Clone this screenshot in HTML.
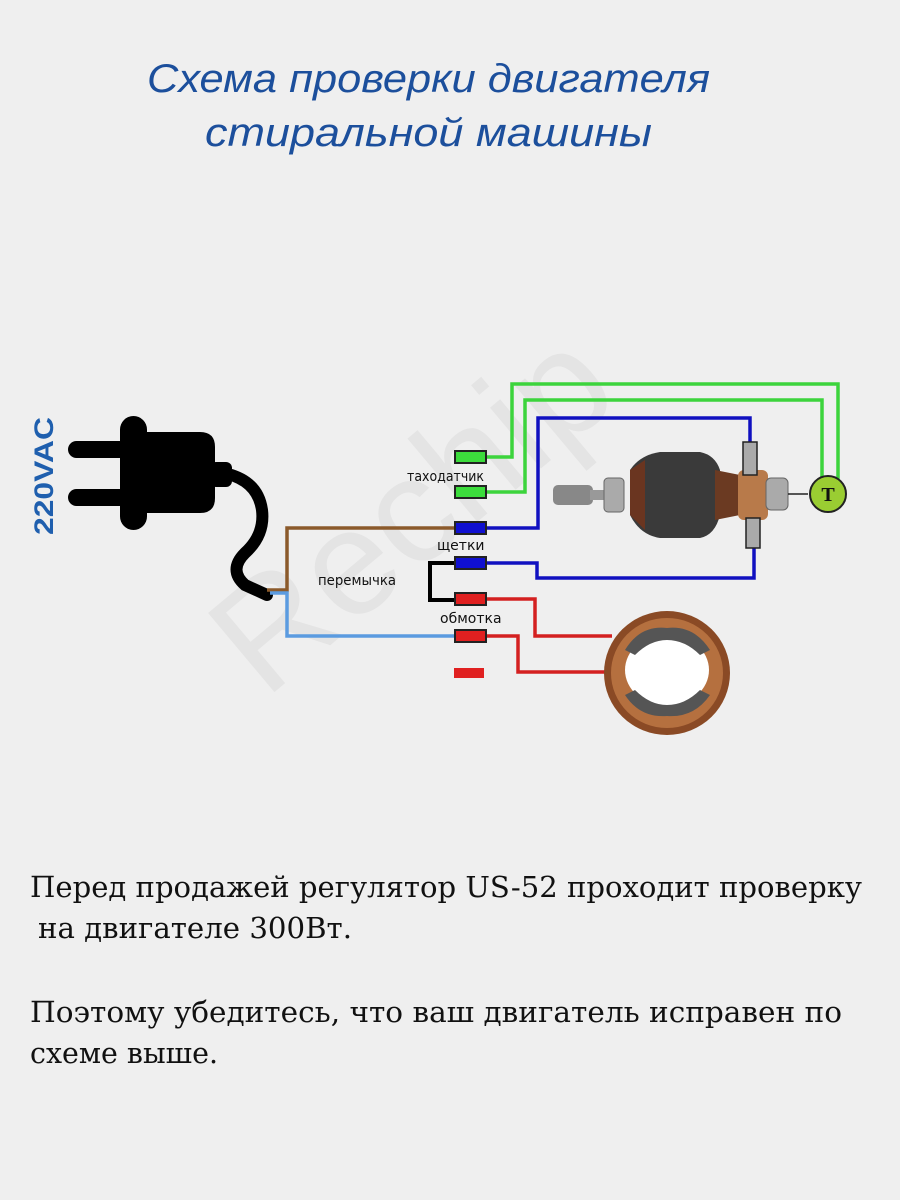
<!DOCTYPE html>
<html><head><meta charset="utf-8"><style>
html,body{margin:0;padding:0;background:#efefef;}
svg{display:block}
</style></head><body>
<svg width="900" height="1200" viewBox="0 0 900 1200" xmlns="http://www.w3.org/2000/svg">
<rect width="900" height="1200" fill="#efefef"/>
<g font-family="'Liberation Sans','DejaVu Sans',sans-serif" font-style="italic" fill="#1c4f9c" font-size="40">
<text x="147" y="92" textLength="563" lengthAdjust="spacingAndGlyphs">Схема проверки двигателя</text>
<text x="205" y="146" textLength="447" lengthAdjust="spacingAndGlyphs">стиральной машины</text>
</g>
<text x="0" y="0" transform="translate(265,700) rotate(-40)" font-family="'Liberation Sans',sans-serif" font-size="150" fill="#dcdcdc" opacity="0.55">Rechip</text>

<text transform="translate(53,535) rotate(-90)" font-family="'Liberation Sans',sans-serif" font-weight="bold" font-size="27" fill="#1f5fae" textLength="118" lengthAdjust="spacingAndGlyphs">220VAC</text>

<g fill="#000">
<rect x="68" y="441" width="60" height="17" rx="8.5"/>
<rect x="68" y="489" width="60" height="17" rx="8.5"/>
<rect x="120" y="416" width="27" height="114" rx="13.5"/>
<path d="M140 432 H200 Q215 432 215 447 V498 Q215 513 200 513 H140 Z"/>
<rect x="210" y="462" width="22" height="25" rx="6"/>
</g>
<path d="M228 474 Q258 482 262 510 Q265 535 245 553 Q228 570 245 585 L267 595" fill="none" stroke="#000" stroke-width="12" stroke-linecap="round"/>

<g fill="none" stroke-width="3.5">
<polyline points="267,590 287,590 287,528 456,528" stroke="#8b5a2b"/>
<polyline points="270,593 287,593 287,636 456,636" stroke="#5b9be0"/>
<polyline points="486,457 512,457 512,384 838,384 838,480" stroke="#3cd43c"/>
<polyline points="486,492 525,492 525,400 822,400 822,480" stroke="#3cd43c"/>
<polyline points="486,528 538,528 538,418 750,418 750,445" stroke="#1010c0"/>
<polyline points="486,563 537,563 537,578 754,578 754,546" stroke="#1010c0"/>
<polyline points="486,599 535,599 535,636 612,636" stroke="#d42020"/>
<polyline points="486,636 518,636 518,672 612,672" stroke="#d42020"/>
<polyline points="456,563 430,563 430,600 456,600" stroke="#000" stroke-width="4"/>
</g>
<g stroke="#222" stroke-width="2">
<rect x="455" y="451" width="31" height="12" fill="#3cdc3c"/>
<rect x="455" y="486" width="31" height="12" fill="#3cdc3c"/>
<rect x="455" y="522" width="31" height="12" fill="#1010d0"/>
<rect x="455" y="557" width="31" height="12" fill="#1010d0"/>
<rect x="455" y="593" width="31" height="12" fill="#e02020"/>
<rect x="455" y="630" width="31" height="12" fill="#e02020"/>
</g>
<rect x="454" y="668" width="30" height="10" fill="#e02020"/>
<g font-family="'DejaVu Sans','Liberation Sans',sans-serif" font-size="14" fill="#111">
<text x="407" y="481" textLength="77" lengthAdjust="spacingAndGlyphs">таходатчик</text>
<text x="437" y="550">щетки</text>
<text x="318" y="585" textLength="78" lengthAdjust="spacingAndGlyphs">перемычка</text>
<text x="440" y="623">обмотка</text>
</g>

<rect x="553" y="485" width="40" height="20" rx="5" fill="#888"/>
<rect x="590" y="490" width="25" height="10" fill="#999"/>
<rect x="604" y="478" width="20" height="34" rx="4" fill="#aaa" stroke="#666"/>
<path d="M630 470 Q640 455 660 452 L700 452 Q715 455 720 470 L720 515 Q715 535 700 538 L660 538 Q640 535 630 515 Z" fill="#3a3a3a"/>
<path d="M630 470 L645 460 L645 530 L630 515 Z" fill="#6a3520"/>
<path d="M715 470 L740 475 L740 515 L715 520 Z" fill="#6b3a22"/>
<rect x="738" y="470" width="30" height="50" rx="6" fill="#b87a4a"/>
<rect x="766" y="478" width="22" height="32" rx="5" fill="#aaa" stroke="#666"/>
<line x1="788" y1="494" x2="808" y2="494" stroke="#222" stroke-width="1.5"/>
<g stroke="#222" stroke-width="1.5" fill="#aaa">
<rect x="743" y="442" width="14" height="33"/>
<rect x="746" y="518" width="14" height="30"/>
</g>
<circle cx="828" cy="494" r="18" fill="#9acd32" stroke="#222" stroke-width="2"/>
<text x="828" y="501" text-anchor="middle" font-family="'Liberation Serif',serif" font-weight="bold" font-size="20" fill="#111">T</text>

<ellipse cx="667" cy="673" rx="63" ry="62" fill="#8a4a25"/>
<ellipse cx="667" cy="673" rx="56" ry="55" fill="#b5703f"/>
<ellipse cx="667" cy="670" rx="42" ry="36" fill="#fff"/>
<path d="M625 650 Q640 625 667 628 Q694 625 710 650 L700 655 Q685 640 667 640 Q650 640 635 655 Z" fill="#555"/>
<path d="M625 695 Q640 718 667 716 Q694 718 710 695 L700 690 Q685 705 667 705 Q650 705 635 690 Z" fill="#555"/>

<g font-family="'DejaVu Serif','Liberation Serif',serif" font-size="29" fill="#111">
<text x="30" y="897" textLength="832" lengthAdjust="spacingAndGlyphs">Перед продажей регулятор US-52 проходит проверку</text>
<text x="38" y="938" textLength="314" lengthAdjust="spacingAndGlyphs">на двигателе 300Вт.</text>
<text x="30" y="1022" textLength="812" lengthAdjust="spacingAndGlyphs">Поэтому убедитесь, что ваш двигатель исправен по</text>
<text x="30" y="1063" textLength="188" lengthAdjust="spacingAndGlyphs">схеме выше.</text>
</g>
</svg>
</body></html>
